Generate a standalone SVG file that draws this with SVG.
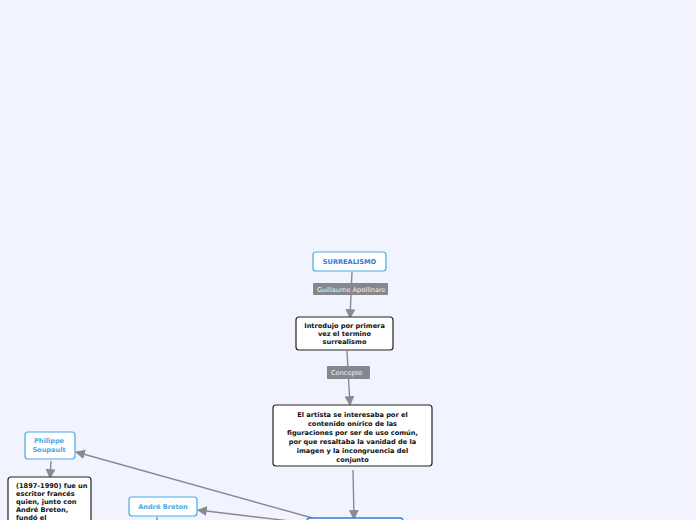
<svg xmlns="http://www.w3.org/2000/svg" width="696" height="520" viewBox="0 0 696 520">
<style>
.t{font-family:"DejaVu Sans",sans-serif;font-weight:bold;font-size:6.6px;fill:#111;text-anchor:middle}
.b{fill:#4aa9e0}
.bx{fill:#fff;stroke:#222;stroke-width:1.2}
.bl{fill:#fff;stroke:#4aa9e0;stroke-width:1.2}
.c{stroke:#888a90;stroke-width:1.4;fill:none}
.lb{fill:#85878c}
.lt{font-family:"DejaVu Sans",sans-serif;font-size:6.6px;fill:#f4f4f4}
</style>
<defs><marker id="a" viewBox="0 0 10 10" refX="9" refY="5" markerWidth="7" markerHeight="7" orient="auto"><path d="M0,0L10,5L0,10z" fill="#888a90"/></marker></defs>
<rect width="696" height="520" fill="#f1f4fe"/>
<g id="connectors">
<path class="c" d="M352,272L350,318" marker-end="url(#a)"/>
<path class="c" d="M347,351L350,405" marker-end="url(#a)"/>
<path class="c" d="M353,470L354,519" marker-end="url(#a)"/>
<path class="c" d="M316,519L76,452" marker-end="url(#a)"/>
<path class="c" d="M290,521L198,510" marker-end="url(#a)"/>
<path class="c" d="M51,461L50,478" marker-end="url(#a)"/>
<path class="c" d="M157,517L157,520"/>
<rect class="lb" x="313" y="283" width="75" height="12" rx="1"/>
<text class="lt" x="317" y="292">Guillaume Apollinare</text>
<rect class="lb" x="327" y="366" width="43" height="13" rx="1"/>
<text class="lt" x="331" y="375">Concepto</text>
</g>
<g id="n1"><rect class="bl" x="313" y="252" width="73" height="19" rx="3" stroke="#2f7fd8"/><text class="t" x="349.5" y="264" fill="#2a7bd6" style="fill:#2a7bd6">SURREALISMO</text></g>
<g id="n2"><rect class="bx" x="296" y="317" width="97" height="33" rx="3"/><text class="t" x="344.5" y="328">Introdujo por primera</text><text class="t" x="344.5" y="336">vez el termino</text><text class="t" x="344.5" y="344">surrealismo</text></g>
<g id="n3"><rect class="bx" x="273" y="405" width="159" height="61" rx="3"/>
<text class="t" x="352.5" y="417">El artista se interesaba por el</text>
<text class="t" x="352.5" y="426">contenido onírico de las</text>
<text class="t" x="352.5" y="435">figuraciones por ser de uso común,</text>
<text class="t" x="352.5" y="444">por que resaltaba la vanidad de la</text>
<text class="t" x="352.5" y="453">imagen y la incongruencia del</text>
<text class="t" x="352.5" y="462">conjunto</text></g>
<g id="n4"><rect class="bl" x="25" y="432" width="50" height="27" rx="3"/><text class="t" x="49" y="443" style="fill:#4aa9e0">Philippe</text><text class="t" x="49" y="452" style="fill:#4aa9e0">Soupault</text></g>
<g id="n5"><rect class="bx" x="8" y="477" width="83" height="50" rx="3"/>
<text class="t" x="16" y="488" style="text-anchor:start">(1897-1990) fue un</text>
<text class="t" x="16" y="496" style="text-anchor:start">escritor francés</text>
<text class="t" x="16" y="504" style="text-anchor:start">quien, junto con</text>
<text class="t" x="16" y="512" style="text-anchor:start">André Breton,</text>
<text class="t" x="16" y="520" style="text-anchor:start">fundó el</text></g>
<g id="n6"><rect class="bl" x="129" y="497" width="68" height="19" rx="3"/><text class="t" x="163" y="509" style="fill:#4aa9e0">André Breton</text></g>
<g id="n7"><rect x="307" y="518" width="96" height="10" rx="3" fill="#fff" stroke="#2f7fd8" stroke-width="1.4"/></g>
</svg>
